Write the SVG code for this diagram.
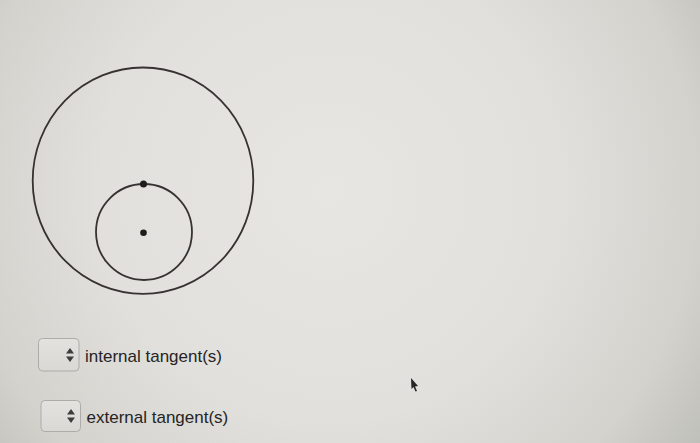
<svg xmlns="http://www.w3.org/2000/svg" width="700" height="443" viewBox="0 0 700 443">
  <defs>
    <radialGradient id="bg" cx="330" cy="190" r="460" gradientUnits="userSpaceOnUse">
      <stop offset="0" stop-color="#e8e6e2"/>
      <stop offset="0.5" stop-color="#e2e0dc"/>
      <stop offset="0.8" stop-color="#d3d2cd"/>
      <stop offset="1" stop-color="#bdbdb7"/>
    </radialGradient>
    <linearGradient id="box" x1="0" y1="0" x2="0" y2="1">
      <stop offset="0" stop-color="#e4e2de"/>
      <stop offset="1" stop-color="#dad8d4"/>
    </linearGradient>
  </defs>
  <style>
    .circ { fill: none; stroke: #363232; stroke-width: 1.8; }
    .dot { fill: #1e1c1c; }
    .sel { fill: url(#box); stroke: #aeaca8; stroke-width: 1; }
    .tri { fill: #3e3c3c; }
    .lbl { font-family: "Liberation Sans", Arial, sans-serif; font-size: 17px; fill: #262424; }
  </style>
  <rect width="700" height="443" fill="url(#bg)"/>

  <g id="outer-circle">
    <ellipse class="circ" cx="143" cy="180.7" rx="110.3" ry="113.2"/>
  </g>
  <g id="inner-circle">
    <ellipse class="circ" cx="144" cy="232" rx="48" ry="48"/>
  </g>
  <g id="center-point">
    <circle class="dot" cx="143.5" cy="232.7" r="3.3"/>
  </g>
  <g id="tangent-point">
    <circle class="dot" cx="143.5" cy="184" r="3.5"/>
  </g>

  <g id="select-internal">
    <rect class="sel" x="38.5" y="338.5" width="40.5" height="32.5" rx="4"/>
    <path class="tri" d="M66 353.5 L74 353.5 L70 348 Z M66 356.5 L74 356.5 L70 362 Z"/>
    <text class="lbl" x="85" y="361.5">internal tangent(s)</text>
  </g>
  <g id="select-external">
    <rect class="sel" x="41" y="400.5" width="39.5" height="31" rx="4"/>
    <path class="tri" d="M67 414.5 L75 414.5 L71 409 Z M67 417.5 L75 417.5 L71 423 Z"/>
    <text class="lbl" x="86.5" y="422.5">external tangent(s)</text>
  </g>

  <g id="cursor">
    <path d="M411 378 L411.5 389 L413.5 387 L415.5 391.5 L417 391 L415 386.5 L418 386 Z" fill="#262424"/>
  </g>
</svg>
